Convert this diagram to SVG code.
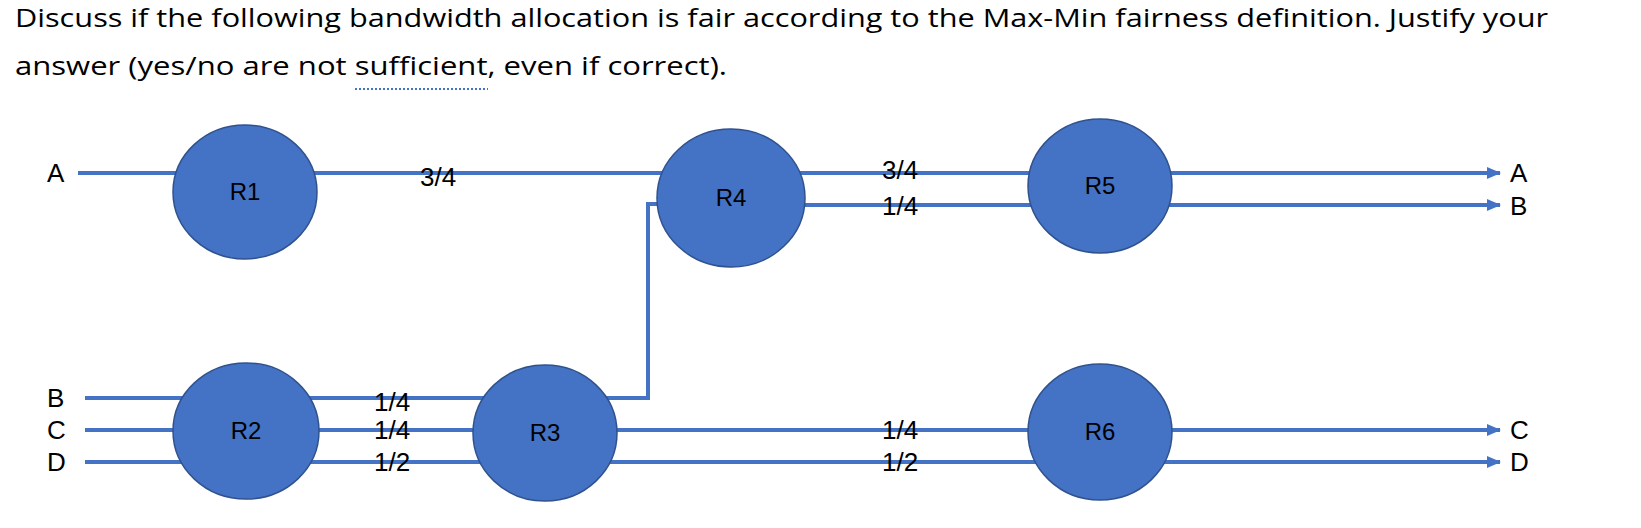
<svg xmlns="http://www.w3.org/2000/svg" width="1641" height="528" viewBox="0 0 1641 528">
<defs>
<style>
.t{font-family:"Open Sans","Liberation Sans",sans-serif;font-size:25px;fill:#000}
.l{font-family:"Liberation Sans",sans-serif;font-size:26px;fill:#000}
.n ellipse{fill:#4472c4;stroke:#2f528f;stroke-width:1.5}
.n text{font-family:"Liberation Sans",sans-serif;font-size:24px;text-anchor:middle;fill:#000}
.c{stroke:#4472c4;stroke-width:4;fill:none}
</style>
<marker id="ar" markerWidth="14" markerHeight="12" refX="13" refY="6" orient="auto" markerUnits="userSpaceOnUse"><path d="M0,0L14,6L0,12z" fill="#4472c4"/></marker>
</defs>
<rect width="1641" height="528" fill="#fff"/>
<text class="t" x="15" y="27" textLength="1533" lengthAdjust="spacingAndGlyphs">Discuss if the following bandwidth allocation is fair according to the Max-Min fairness definition. Justify your</text>
<text class="t" x="15" y="75" textLength="712" lengthAdjust="spacingAndGlyphs">answer (yes/no are not sufficient, even if correct).</text>
<line x1="355" y1="89" x2="488" y2="89" stroke="#4472c4" stroke-width="2" stroke-dasharray="2,2"/>
<g id="connectors">
<path class="c" d="M78,173H1500" marker-end="url(#ar)"/>
<path class="c" d="M800,205H1500" marker-end="url(#ar)"/>
<path class="c" d="M85,398H648V204H665"/>
<path class="c" d="M85,430H1500" marker-end="url(#ar)"/>
<path class="c" d="M85,462H1500" marker-end="url(#ar)"/>
</g>
<g id="R1" class="n"><ellipse cx="245" cy="192" rx="72" ry="67"/><text x="245" y="200">R1</text></g>
<g id="R4" class="n"><ellipse cx="731" cy="198" rx="74" ry="69"/><text x="731" y="206">R4</text></g>
<g id="R5" class="n"><ellipse cx="1100" cy="186" rx="72" ry="67"/><text x="1100" y="194">R5</text></g>
<g id="R2" class="n"><ellipse cx="246" cy="431" rx="73" ry="68"/><text x="246" y="439">R2</text></g>
<g id="R3" class="n"><ellipse cx="545" cy="433" rx="72" ry="68"/><text x="545" y="441">R3</text></g>
<g id="R6" class="n"><ellipse cx="1100" cy="432" rx="72" ry="68"/><text x="1100" y="440">R6</text></g>
<g class="l">
<text x="420" y="186">3/4</text>
<text x="882" y="179">3/4</text>
<text x="882" y="215">1/4</text>
<text x="374" y="411">1/4</text>
<text x="374" y="439">1/4</text>
<text x="374" y="471">1/2</text>
<text x="882" y="439">1/4</text>
<text x="882" y="471">1/2</text>
<text x="47" y="182">A</text>
<text x="47" y="407">B</text>
<text x="47" y="439">C</text>
<text x="47" y="471">D</text>
<text x="1510" y="182">A</text>
<text x="1510" y="215">B</text>
<text x="1510" y="439">C</text>
<text x="1510" y="471">D</text>
</g>
</svg>
